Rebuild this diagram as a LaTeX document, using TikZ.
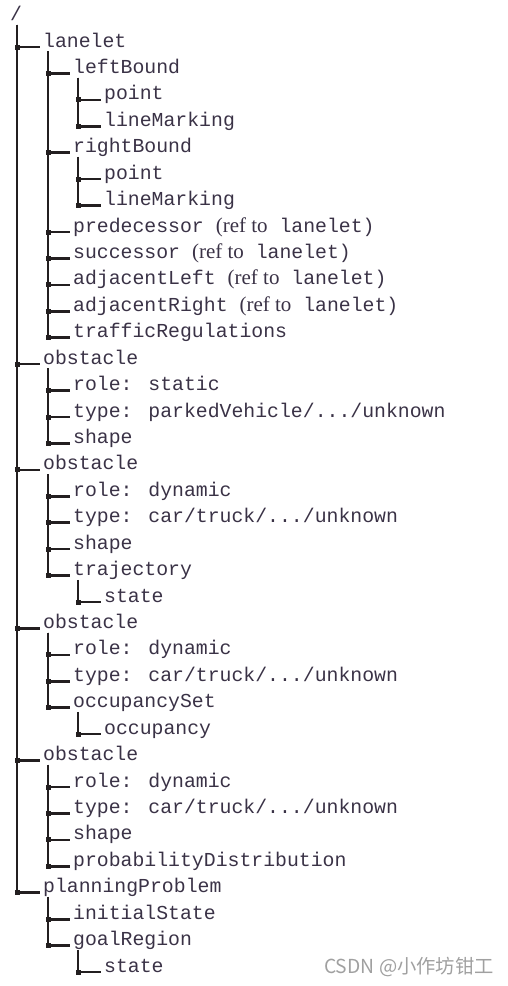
\documentclass[tikz,border=0pt]{standalone}
\usepackage{fontspec}
\setmainfont{Liberation Mono}
\newfontfamily\serifpart{Liberation Serif}
\newfontfamily\cjkmark{Noto Sans CJK SC}
\definecolor{txt}{RGB}{58,50,70}
\definecolor{ln}{RGB}{35,31,32}
\definecolor{wm}{RGB}{160,160,160}
\tikzset{
  lbl/.style={anchor=base west, inner sep=0pt, text height=12pt, text depth=4pt,
              text=txt, font=\fontsize{19.8}{20}\selectfont},
  branchline/.style={line width=2.6pt, draw=ln},
}
\newcommand\treebranch[3][5]{%
  \draw[branchline] ([xshift=#1pt]#2.south west) |- ([xshift=-3pt]#3.base west);
  \fill[ln] ([xshift=#1pt]#2.south west |- #3.base west) ++(-2.5pt,-2.5pt) rectangle ++(5pt,5pt);}
\newcommand\rf{{\serifpart\fontsize{21}{20}\selectfont(ref to}}
\begin{document}
\begin{tikzpicture}[x=1pt,y=-1pt]
\useasboundingbox (0,0) rectangle (508,986);
\def\Y#1{47+26.43*#1}
\node[lbl] (root) at (10,{\Y{-1}}) {/};
% level 1 / 2 / 3
\node[lbl] (lanelet) at (43,{\Y{0}}) {lanelet};
\node[lbl] (leftB) at (73,{\Y{1}}) {leftBound};
\node[lbl] (lbPoint) at (104,{\Y{2}}) {point};
\node[lbl] (lbLine) at (104,{\Y{3}}) {lineMarking};
\node[lbl] (rightB) at (73,{\Y{4}}) {rightBound};
\node[lbl] (rbPoint) at (104,{\Y{5}}) {point};
\node[lbl] (rbLine) at (104,{\Y{6}}) {lineMarking};
\node[lbl] (pred) at (73,{\Y{7}}) {predecessor \rf{} lanelet)};
\node[lbl] (succ) at (73,{\Y{8}}) {successor \rf{} lanelet)};
\node[lbl] (adjL) at (73,{\Y{9}}) {adjacentLeft \rf{} lanelet)};
\node[lbl] (adjR) at (73,{\Y{10}}) {adjacentRight \rf{} lanelet)};
\node[lbl] (traffic) at (73,{\Y{11}}) {trafficRegulations};
\node[lbl] (obsA) at (43,{\Y{12}}) {obstacle};
\node[lbl] (obsArole) at (73,{\Y{13}}) {role: static};
\node[lbl] (obsAtype) at (73,{\Y{14}}) {type: parkedVehicle/.../unknown};
\node[lbl] (obsAshape) at (73,{\Y{15}}) {shape};
\node[lbl] (obsB) at (43,{\Y{16}}) {obstacle};
\node[lbl] (obsBrole) at (73,{\Y{17}}) {role: dynamic};
\node[lbl] (obsBtype) at (73,{\Y{18}}) {type: car/truck/.../unknown};
\node[lbl] (obsBshape) at (73,{\Y{19}}) {shape};
\node[lbl] (obsBtraj) at (73,{\Y{20}}) {trajectory};
\node[lbl] (obsBstate) at (104,{\Y{21}}) {state};
\node[lbl] (obsC) at (43,{\Y{22}}) {obstacle};
\node[lbl] (obsCrole) at (73,{\Y{23}}) {role: dynamic};
\node[lbl] (obsCtype) at (73,{\Y{24}}) {type: car/truck/.../unknown};
\node[lbl] (obsCset) at (73,{\Y{25}}) {occupancySet};
\node[lbl] (obsCocc) at (104,{\Y{26}}) {occupancy};
\node[lbl] (obsD) at (43,{\Y{27}}) {obstacle};
\node[lbl] (obsDrole) at (73,{\Y{28}}) {role: dynamic};
\node[lbl] (obsDtype) at (73,{\Y{29}}) {type: car/truck/.../unknown};
\node[lbl] (obsDshape) at (73,{\Y{30}}) {shape};
\node[lbl] (obsDprob) at (73,{\Y{31}}) {probabilityDistribution};
\node[lbl] (plan) at (43,{\Y{32}}) {planningProblem};
\node[lbl] (planInit) at (73,{\Y{33}}) {initialState};
\node[lbl] (planGoal) at (73,{\Y{34}}) {goalRegion};
\node[lbl] (planState) at (104,{\Y{35}}) {state};
% connectors
\foreach \c in {lanelet,obsA,obsB,obsC,obsD,plan} {\treebranch[7]{root}{\c}}
\foreach \c in {leftB,rightB,pred,succ,adjL,adjR,traffic} {\treebranch{lanelet}{\c}}
\foreach \c in {lbPoint,lbLine} {\treebranch{leftB}{\c}}
\foreach \c in {rbPoint,rbLine} {\treebranch{rightB}{\c}}
\foreach \c in {obsArole,obsAtype,obsAshape} {\treebranch{obsA}{\c}}
\foreach \c in {obsBrole,obsBtype,obsBshape,obsBtraj} {\treebranch{obsB}{\c}}
\treebranch{obsBtraj}{obsBstate}
\foreach \c in {obsCrole,obsCtype,obsCset} {\treebranch{obsC}{\c}}
\treebranch{obsCset}{obsCocc}
\foreach \c in {obsDrole,obsDtype,obsDshape,obsDprob} {\treebranch{obsD}{\c}}
\foreach \c in {planInit,planGoal} {\treebranch{plan}{\c}}
\treebranch{planGoal}{planState}
% watermark
\node[anchor=east, inner sep=0pt, text=wm, font=\cjkmark\fontsize{19.3}{20}\selectfont] (mark) at (494,967) {CSDN @小作坊钳工};
\end{tikzpicture}
\end{document}
